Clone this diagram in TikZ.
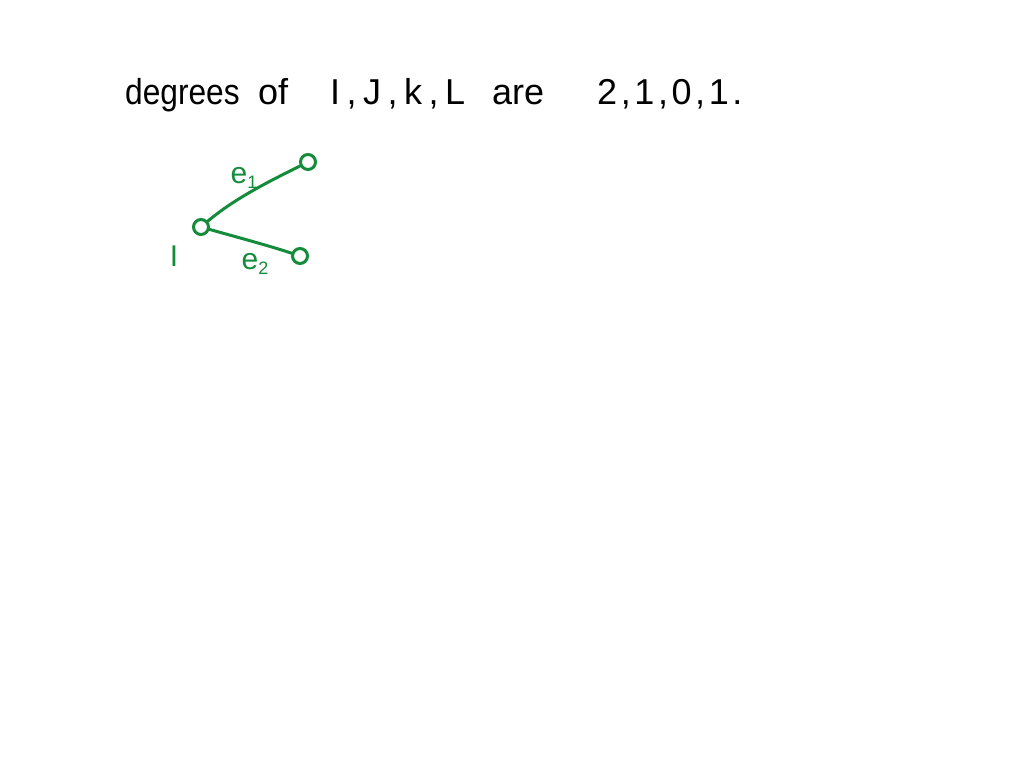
\documentclass[tikz,border=0pt]{standalone}
\usepackage{fontspec}
\setmainfont{Liberation Sans}
\definecolor{pen}{RGB}{20,140,60}
\newcommand{\subdig}[1]{{\fontsize{18}{20}\selectfont\raisebox{-5pt}{#1}}}
\tikzset{
  words/.style={anchor=base west, inner sep=0pt, font=\fontsize{36}{40}\selectfont, text=black},
  vert/.style={circle, draw=pen, line width=3pt, minimum size=15pt, inner sep=0pt, fill=white},
  edge/.style={draw=pen, line width=3pt, line cap=round},
  glab/.style={inner sep=0pt, text=pen, font=\fontsize{30}{32}\selectfont}
}
\begin{document}
\begin{tikzpicture}[x=1pt,y=-1pt]
\useasboundingbox[fill=white] (0,0) rectangle (1024,768);
\node[words, xscale=0.88] (w1) at (125,104) {degrees};
\node[words] (w2) at (258,104) {of};
\node[words] (w3) at (330,104) {\addfontfeature{LetterSpace=18}I,J,k,L};
\node[words] (w4) at (492,104) {are};
\node[words] (w5) at (597,104) {\addfontfeature{LetterSpace=10}2,1,0,1.};
\node[vert] (vI) at (201,227) {};
\node[vert] (vA) at (308,162) {};
\node[vert] (vB) at (300,256) {};
\draw[edge] (vI) .. controls (235,198) and (272,180) .. (vA);
\draw[edge] (vI) .. controls (240,238) and (270,246) .. (vB);
\node[glab] (l1) at (244,178) {e\subdig{1}};
\node[glab] (l2) at (255,264) {e\subdig{2}};
\node[glab] (lI) at (174,256) {I};
\end{tikzpicture}
\end{document}
